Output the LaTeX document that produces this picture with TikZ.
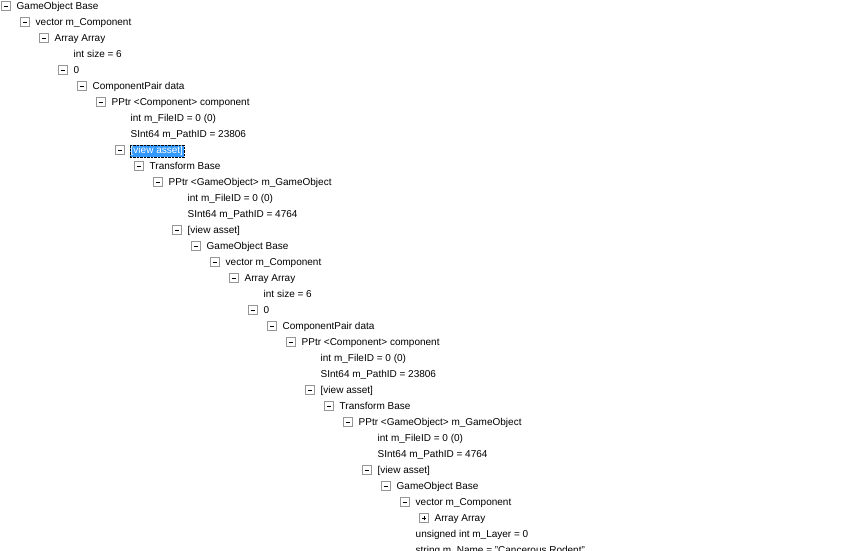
\documentclass[tikz,border=0pt]{standalone}
\usepackage{fontspec}
\setmainfont{Liberation Sans}
\begin{document}
\begin{tikzpicture}[x=1pt,y=-1pt,
  lbl/.style={anchor=base west,inner sep=0pt,font=\fontsize{10}{12}\selectfont,text=black},
  sel/.style={lbl,fill={rgb,255:red,51;green,153;blue,255},text=white,draw=black,densely dotted,inner xsep=1pt,inner ysep=1.5pt},
  tbox/.style={draw={rgb,255:red,150;green,150;blue,150},fill=white,minimum size=8.5pt,inner sep=0pt,line width=0.7pt}]
\useasboundingbox[fill=white] (0,0) rectangle (853,550);
\foreach \r/\l/\t/\s in {
0/0/b/GameObject Base,
1/1/b/vector m\_Component,
2/2/b/Array Array,
3/3/n/int size = 6,
4/3/b/0,
5/4/b/ComponentPair data,
6/5/b/PPtr <Component> component,
7/6/n/int m\_FileID = 0 (0),
8/6/n/SInt64 m\_PathID = 23806,
9/6/s/[view asset],
10/7/b/Transform Base,
11/8/b/PPtr <GameObject> m\_GameObject,
12/9/n/int m\_FileID = 0 (0),
13/9/n/SInt64 m\_PathID = 4764,
14/9/b/[view asset],
15/10/b/GameObject Base,
16/11/b/vector m\_Component,
17/12/b/Array Array,
18/13/n/int size = 6,
19/13/b/0,
20/14/b/ComponentPair data,
21/15/b/PPtr <Component> component,
22/16/n/int m\_FileID = 0 (0),
23/16/n/SInt64 m\_PathID = 23806,
24/16/b/[view asset],
25/17/b/Transform Base,
26/18/b/PPtr <GameObject> m\_GameObject,
27/19/n/int m\_FileID = 0 (0),
28/19/n/SInt64 m\_PathID = 4764,
29/19/b/[view asset],
30/20/b/GameObject Base,
31/21/b/vector m\_Component,
32/22/p/Array Array,
33/21/n/unsigned int m\_Layer = 0,
34/21/n/string m\_Name = "Cancerous Rodent"}{
  \pgfmathsetmacro\yy{6+16*\r}
  \pgfmathsetmacro\yb{9.8+16*\r}
  \pgfmathsetmacro\xt{16.5+19*\l}
  \pgfmathsetmacro\xb{6+19*\l}
  \if\t s
    \node[sel] (t\r) at (\xt-1,\yb) {\s};
  \else
    \node[lbl] (t\r) at (\xt,\yb) {\s};
  \fi
  \if\t n\else
    \node[tbox] (b\r) at (\xb,\yy) {};
    \draw[line width=0.7pt] ([xshift=-2.3pt]b\r.center) -- ([xshift=2.3pt]b\r.center);
    \if\t p
      \draw[line width=0.7pt] ([yshift=-2.3pt]b\r.center) -- ([yshift=2.3pt]b\r.center);
    \fi
  \fi
}
\end{tikzpicture}
\end{document}
